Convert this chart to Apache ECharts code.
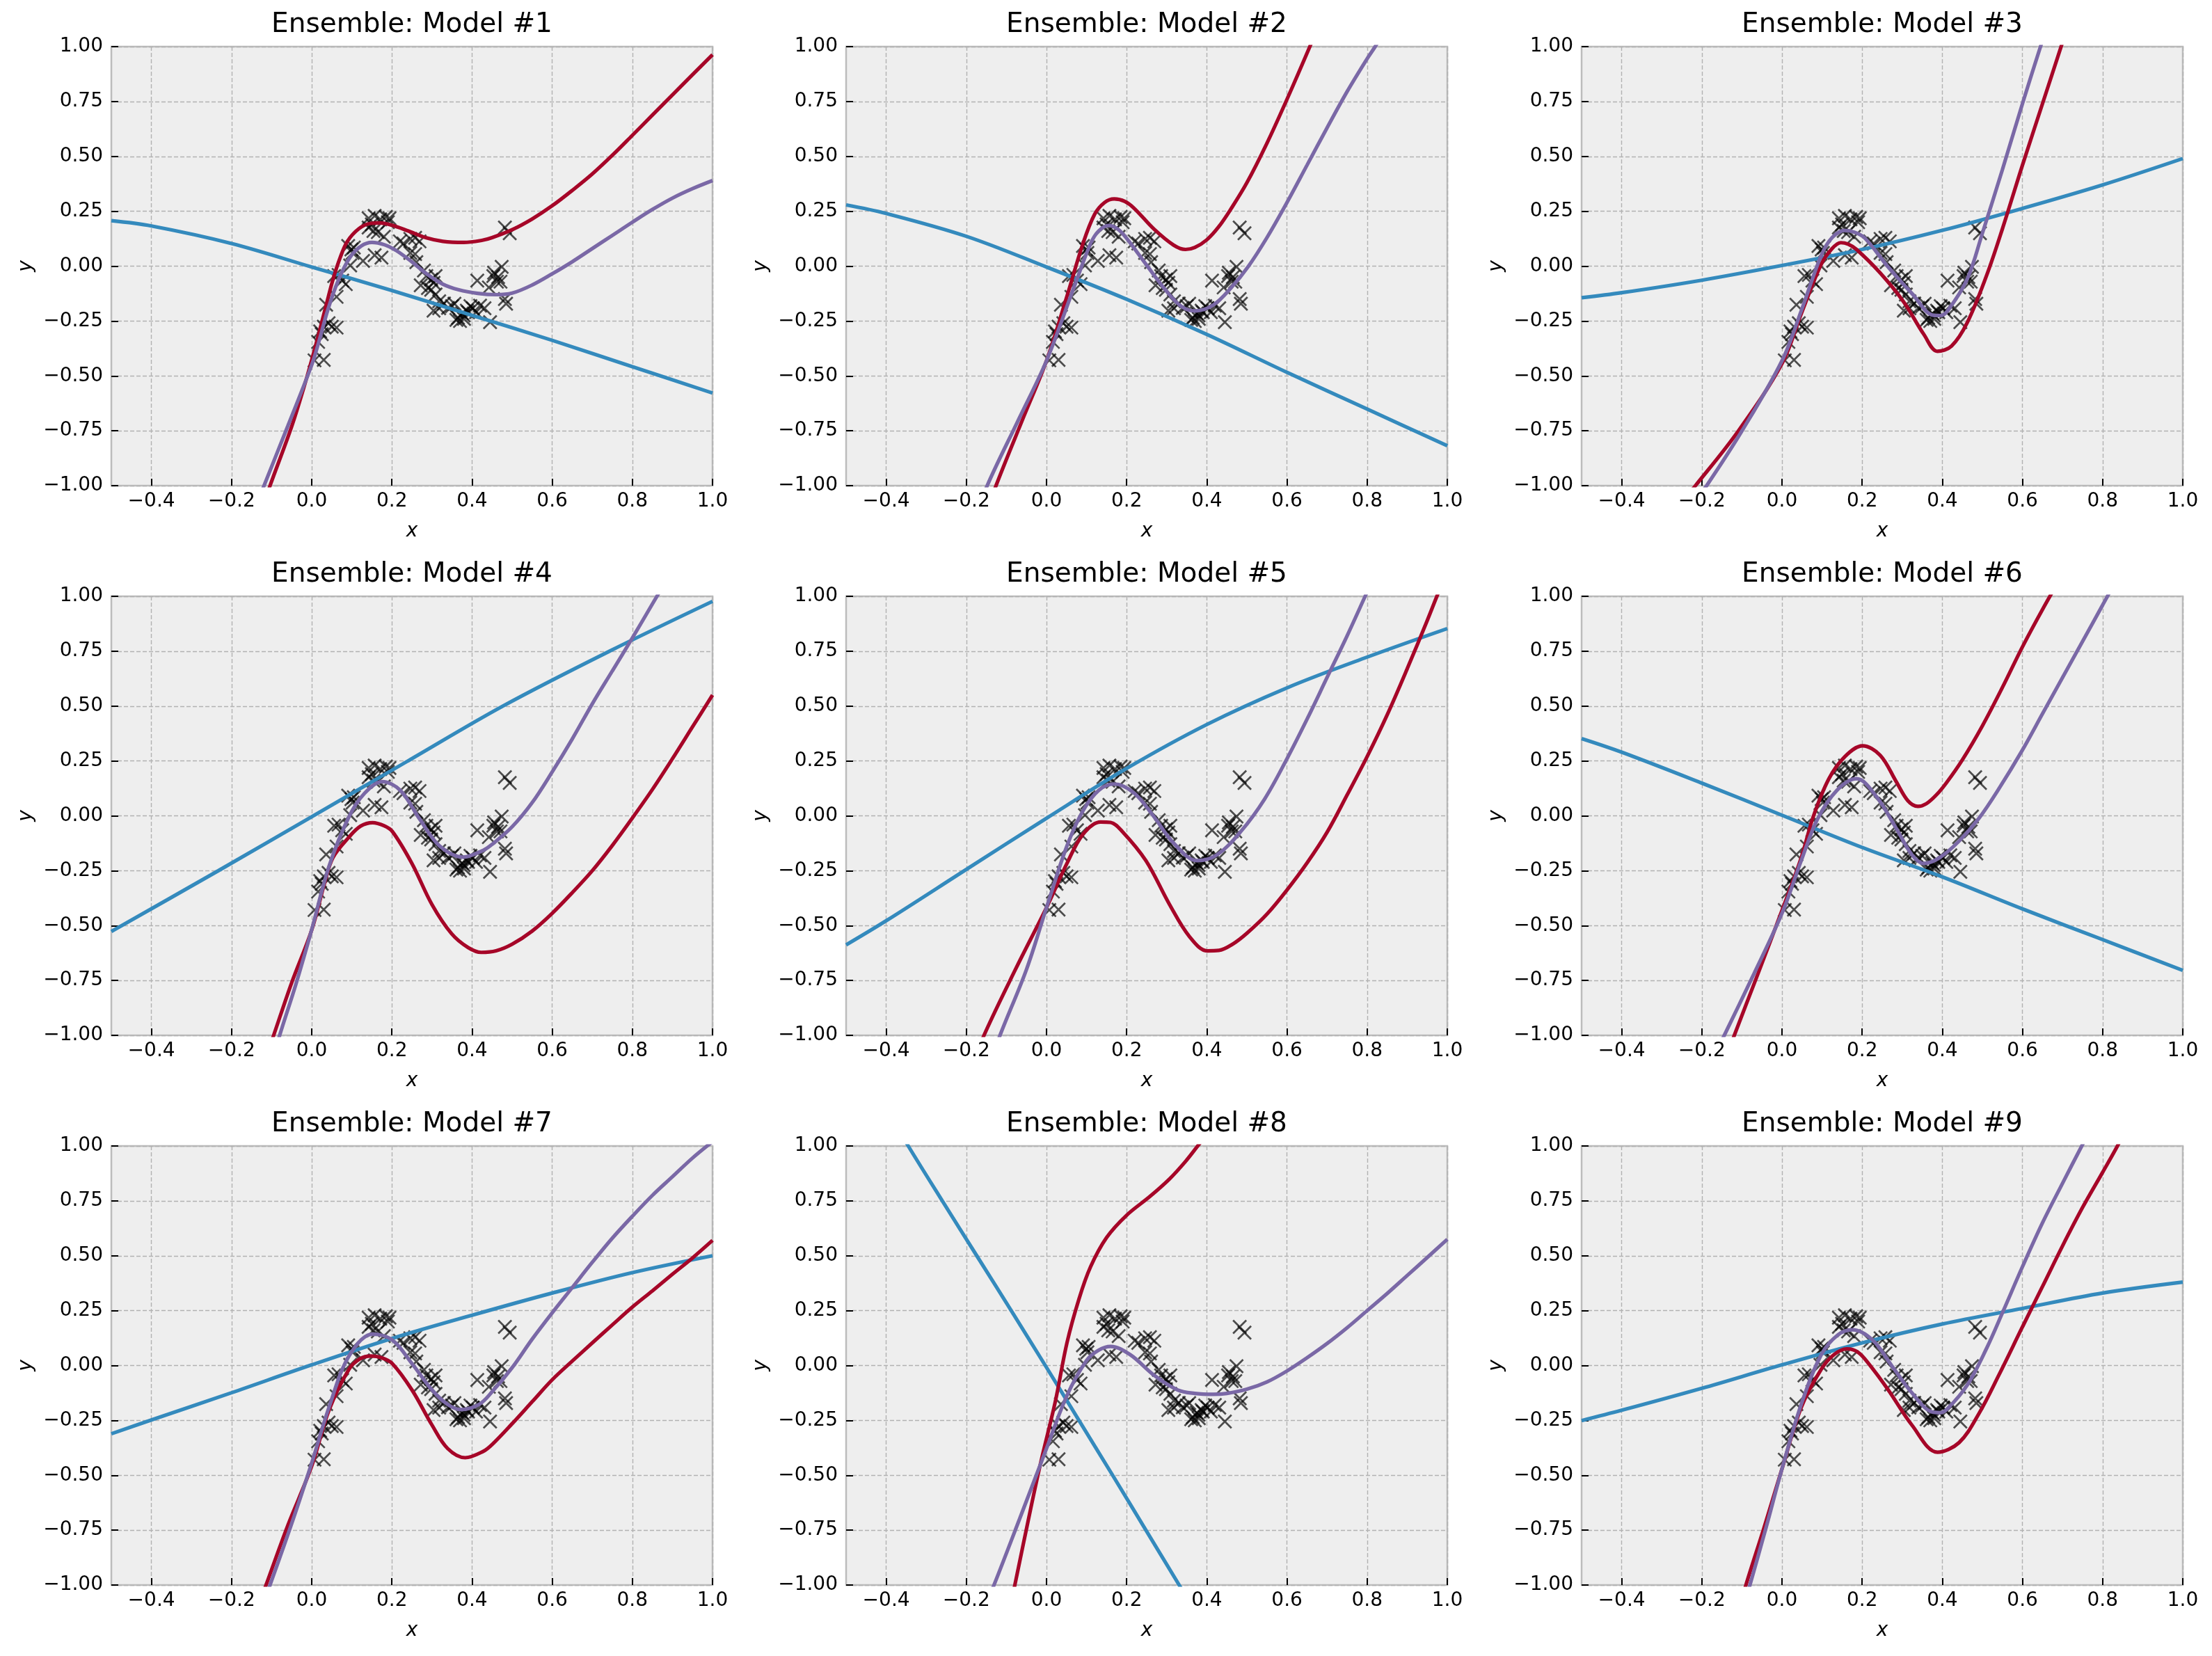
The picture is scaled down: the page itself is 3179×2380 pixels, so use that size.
<!DOCTYPE html>
<html>
<head>
<meta charset="utf-8">
<script src="https://cdn.jsdelivr.net/npm/echarts@6/dist/echarts.min.js"></script>
<style>
html,body{margin:0;padding:0;background:#ffffff;}
#chart{width:3179px;height:2380px;}
</style>
</head>
<body>
<div id="chart"></div>
<script>
// ---------- observed data points (same in every panel) ----------
const dataX = [0.007,0.030,0.016,0.021,0.025,0.030,0.042,0.050,0.062,0.036,
  0.062,0.056,0.067,0.076,0.085,0.091,0.099,0.102,0.105,0.096,
  0.128,0.142,0.157,0.171,0.185,0.194,0.142,0.150,0.154,0.165,
  0.180,0.190,0.157,0.174,0.220,0.229,0.246,0.258,0.269,0.246,
  0.258,0.261,0.272,0.280,0.286,0.290,0.298,0.304,0.309,0.298,
  0.309,0.318,0.304,0.318,0.330,0.340,0.350,0.356,0.361,0.365,
  0.370,0.375,0.379,0.380,0.387,0.390,0.396,0.402,0.410,0.413,
  0.420,0.431,0.442,0.445,0.453,0.455,0.462,0.465,0.471,0.474,
  0.482,0.482,0.485,0.494];
const dataY = [-0.429,-0.427,-0.345,-0.297,-0.310,-0.276,-0.260,-0.276,-0.280,-0.176,
  -0.140,-0.045,-0.040,-0.066,-0.082,0.092,0.076,0.060,0.085,0.003,
  0.024,0.218,0.229,0.213,0.224,0.218,0.176,0.190,0.160,0.155,
  0.134,0.200,0.050,0.039,0.113,0.103,0.124,0.129,0.113,0.060,
  0.055,0.018,-0.087,-0.020,-0.045,-0.100,-0.061,-0.076,-0.045,-0.108,
  -0.129,-0.160,-0.203,-0.192,-0.170,-0.190,-0.182,-0.171,-0.245,-0.235,
  -0.250,-0.215,-0.224,-0.240,-0.203,-0.210,-0.182,-0.192,-0.210,-0.066,
  -0.180,-0.192,-0.097,-0.255,-0.045,-0.030,-0.071,-0.050,-0.071,-0.003,
  0.176,-0.150,-0.171,0.150];

// ---------- tick values ----------
const xTicks = [-0.4,-0.2,0.0,0.2,0.4,0.6,0.8,1.0];
const yTicks = [-1.0,-0.75,-0.5,-0.25,0.0,0.25,0.5,0.75,1.0];

// ---------- titles ----------
const titles = ['Ensemble: Model #1','Ensemble: Model #2','Ensemble: Model #3',
  'Ensemble: Model #4','Ensemble: Model #5','Ensemble: Model #6',
  'Ensemble: Model #7','Ensemble: Model #8','Ensemble: Model #9'];

// ---------- model curves ([x, y] samples) ----------
const blue1 = [[-0.5,0.207],[-0.4,0.183],[-0.2,0.103],[0,-0.004],[0.2,-0.111],[0.4,-0.224],[0.6,-0.338],[0.8,-0.458],[1.0,-0.578]];
const red1 = [[-0.13,-1.14],[-0.104,-1.0],[-0.05,-0.73],[-0.016,-0.53],[0.01,-0.36],[0.037,-0.171],[0.054,-0.055],[0.071,0.039],[0.089,0.113],[0.118,0.171],[0.147,0.195],[0.17,0.197],[0.199,0.187],[0.24,0.161],[0.286,0.129],[0.327,0.113],[0.379,0.108],[0.426,0.118],[0.45,0.13],[0.5,0.166],[0.55,0.215],[0.6,0.275],[0.65,0.345],[0.7,0.42],[0.75,0.505],[0.8,0.596],[0.85,0.688],[0.9,0.78],[0.95,0.872],[1.0,0.963]];
const purple1 = [[-0.14,-1.1],[-0.119,-1.0],[-0.06,-0.73],[0,-0.45],[0.02,-0.33],[0.04,-0.2],[0.066,-0.066],[0.095,0.039],[0.124,0.092],[0.15,0.108],[0.182,0.097],[0.211,0.071],[0.251,0.018],[0.286,-0.034],[0.327,-0.082],[0.367,-0.108],[0.414,-0.124],[0.46,-0.13],[0.5,-0.123],[0.55,-0.086],[0.6,-0.035],[0.65,0.02],[0.7,0.08],[0.75,0.14],[0.8,0.2],[0.85,0.258],[0.9,0.31],[0.95,0.353],[1.0,0.39]];

const blue2 = [[-0.5,0.279],[-0.4,0.24],[-0.2,0.136],[0,-0.004],[0.2,-0.151],[0.4,-0.311],[0.6,-0.484],[0.8,-0.651],[1.0,-0.818]];
const red2 = [[-0.15,-1.13],[-0.126,-1.0],[-0.06,-0.7],[0,-0.431],[0.051,-0.137],[0.091,0.103],[0.12,0.236],[0.145,0.29],[0.169,0.306],[0.195,0.295],[0.219,0.263],[0.268,0.169],[0.317,0.096],[0.347,0.076],[0.37,0.085],[0.4,0.12],[0.43,0.18],[0.46,0.26],[0.5,0.38],[0.55,0.56],[0.6,0.76],[0.657,1.0],[0.67,1.06]];
const purple2 = [[-0.17,-1.12],[-0.148,-1.0],[-0.07,-0.7],[0,-0.431],[0.071,-0.084],[0.11,0.103],[0.13,0.16],[0.155,0.185],[0.177,0.17],[0.199,0.129],[0.248,0.009],[0.298,-0.111],[0.337,-0.184],[0.371,-0.204],[0.416,-0.177],[0.46,-0.1],[0.504,0.0],[0.55,0.13],[0.6,0.29],[0.65,0.46],[0.7,0.63],[0.75,0.795],[0.8,0.945],[0.82,1.0],[0.84,1.06]];

const blue3 = [[-0.5,-0.144],[-0.4,-0.121],[-0.2,-0.064],[0,0.003],[0.2,0.076],[0.4,0.163],[0.6,0.263],[0.8,0.37],[1.0,0.49]];
const red3 = [[-0.24,-1.05],[-0.216,-1.0],[-0.109,-0.751],[0,-0.444],[0.048,-0.217],[0.098,0.009],[0.125,0.08],[0.147,0.107],[0.165,0.1],[0.186,0.076],[0.245,-0.031],[0.304,-0.164],[0.354,-0.311],[0.388,-0.388],[0.423,-0.364],[0.462,-0.258],[0.511,-0.04],[0.55,0.17],[0.6,0.46],[0.65,0.74],[0.7,1.02]];
const purple3 = [[-0.21,-1.05],[-0.188,-1.0],[-0.1,-0.751],[0,-0.431],[0.048,-0.204],[0.098,0.049],[0.125,0.13],[0.157,0.163],[0.18,0.155],[0.206,0.129],[0.265,-0.004],[0.324,-0.124],[0.378,-0.224],[0.395,-0.225],[0.413,-0.204],[0.462,-0.06],[0.5,0.15],[0.55,0.44],[0.6,0.74],[0.645,1.0],[0.66,1.08]];

const blue4 = [[-0.5,-0.527],[-0.474,-0.5],[-0.233,-0.25],[0.004,0.0],[0.24,0.25],[0.477,0.5],[0.743,0.75],[1.0,0.977]];
const red4 = [[-0.11,-1.08],[-0.095,-1.0],[-0.05,-0.76],[0,-0.52],[0.033,-0.3],[0.053,-0.19],[0.093,-0.097],[0.122,-0.047],[0.152,-0.031],[0.18,-0.045],[0.201,-0.071],[0.25,-0.217],[0.3,-0.404],[0.349,-0.537],[0.39,-0.6],[0.423,-0.622],[0.46,-0.615],[0.5,-0.585],[0.55,-0.525],[0.6,-0.444],[0.65,-0.35],[0.7,-0.25],[0.75,-0.135],[0.8,-0.01],[0.85,0.12],[0.9,0.26],[0.95,0.405],[1.0,0.55]];
const purple4 = [[-0.09,-1.07],[-0.08,-1.0],[-0.04,-0.77],[0,-0.518],[0.043,-0.231],[0.093,-0.004],[0.132,0.103],[0.176,0.156],[0.221,0.116],[0.27,-0.017],[0.319,-0.137],[0.378,-0.188],[0.428,-0.157],[0.45,-0.13],[0.5,-0.05],[0.55,0.06],[0.6,0.2],[0.65,0.35],[0.7,0.51],[0.75,0.66],[0.8,0.81],[0.85,0.965],[0.9,1.12]];

const blue5 = [[-0.5,-0.588],[-0.4,-0.478],[-0.2,-0.244],[0,-0.011],[0.2,0.216],[0.4,0.416],[0.6,0.583],[0.8,0.723],[1.0,0.853]];
const red5 = [[-0.17,-1.08],[-0.156,-1.0],[-0.077,-0.698],[0,-0.418],[0.051,-0.217],[0.091,-0.084],[0.135,-0.028],[0.16,-0.03],[0.189,-0.071],[0.248,-0.204],[0.307,-0.404],[0.357,-0.551],[0.401,-0.615],[0.43,-0.613],[0.465,-0.584],[0.5,-0.535],[0.55,-0.448],[0.6,-0.338],[0.65,-0.215],[0.7,-0.075],[0.75,0.095],[0.8,0.27],[0.85,0.46],[0.9,0.67],[0.95,0.89],[0.974,1.0],[0.99,1.07]];
const purple5 = [[-0.13,-1.08],[-0.116,-1.0],[-0.05,-0.7],[0,-0.418],[0.051,-0.137],[0.091,0.023],[0.13,0.116],[0.169,0.145],[0.219,0.103],[0.268,-0.004],[0.317,-0.124],[0.376,-0.204],[0.426,-0.177],[0.485,-0.071],[0.544,0.076],[0.6,0.26],[0.65,0.44],[0.7,0.63],[0.75,0.82],[0.795,1.0],[0.81,1.06]];

const blue6 = [[-0.5,0.352],[-0.4,0.29],[-0.2,0.149],[0,0.003],[0.2,-0.144],[0.4,-0.278],[0.6,-0.424],[0.8,-0.564],[1.0,-0.704]];
const red6 = [[-0.13,-1.06],[-0.119,-1.0],[-0.06,-0.72],[0,-0.431],[0.048,-0.191],[0.078,-0.004],[0.117,0.169],[0.157,0.27],[0.201,0.319],[0.245,0.276],[0.285,0.156],[0.314,0.069],[0.339,0.043],[0.36,0.055],[0.385,0.095],[0.41,0.15],[0.45,0.255],[0.5,0.41],[0.55,0.585],[0.6,0.77],[0.65,0.94],[0.7,1.1]];
const purple6 = [[-0.16,-1.06],[-0.144,-1.0],[-0.07,-0.72],[0,-0.444],[0.048,-0.204],[0.088,-0.017],[0.137,0.116],[0.186,0.169],[0.235,0.089],[0.285,-0.057],[0.324,-0.177],[0.354,-0.217],[0.393,-0.191],[0.442,-0.115],[0.492,-0.01],[0.54,0.12],[0.6,0.3],[0.65,0.465],[0.7,0.63],[0.75,0.795],[0.8,0.96],[0.812,1.0],[0.83,1.06]];

const blue7 = [[-0.5,-0.311],[-0.4,-0.248],[-0.2,-0.124],[0,0.003],[0.2,0.123],[0.4,0.229],[0.6,0.33],[0.8,0.423],[1.0,0.5]];
const red7 = [[-0.13,-1.08],[-0.114,-1.0],[-0.06,-0.73],[0,-0.458],[0.043,-0.204],[0.093,-0.017],[0.12,0.03],[0.148,0.043],[0.175,0.035],[0.201,0.009],[0.25,-0.111],[0.3,-0.271],[0.339,-0.378],[0.383,-0.42],[0.428,-0.391],[0.45,-0.36],[0.5,-0.265],[0.55,-0.165],[0.6,-0.065],[0.65,0.02],[0.7,0.103],[0.75,0.185],[0.8,0.266],[0.85,0.34],[0.9,0.416],[0.95,0.49],[1.0,0.57]];
const purple7 = [[-0.12,-1.08],[-0.104,-1.0],[-0.05,-0.72],[0,-0.444],[0.043,-0.191],[0.093,0.043],[0.152,0.143],[0.201,0.116],[0.25,0.009],[0.3,-0.111],[0.339,-0.177],[0.373,-0.201],[0.418,-0.177],[0.45,-0.12],[0.5,-0.01],[0.55,0.12],[0.6,0.24],[0.65,0.355],[0.7,0.47],[0.75,0.58],[0.8,0.68],[0.85,0.775],[0.9,0.86],[0.95,0.945],[1.0,1.02]];

const blue8 = [[-0.36,1.05],[-0.345,1.0],[-0.26,0.75],[-0.174,0.5],[-0.088,0.25],[-0.003,0.0],[0.081,-0.25],[0.165,-0.5],[0.248,-0.75],[0.331,-1.0],[0.35,-1.06]];
const red8 = [[-0.09,-1.1],[-0.079,-1.0],[-0.037,-0.631],[-0.013,-0.431],[0.022,-0.164],[0.051,0.103],[0.081,0.303],[0.11,0.45],[0.15,0.583],[0.199,0.683],[0.258,0.77],[0.307,0.85],[0.347,0.93],[0.376,0.997],[0.39,1.03]];
const purple8 = [[-0.15,-1.08],[-0.131,-1.0],[-0.067,-0.698],[0,-0.378],[0.051,-0.137],[0.1,0.023],[0.13,0.07],[0.16,0.087],[0.209,0.049],[0.268,-0.044],[0.327,-0.111],[0.37,-0.127],[0.416,-0.131],[0.45,-0.127],[0.5,-0.108],[0.55,-0.075],[0.6,-0.025],[0.65,0.035],[0.7,0.1],[0.75,0.172],[0.8,0.25],[0.85,0.328],[0.9,0.41],[0.95,0.492],[1.0,0.575]];

const blue9 = [[-0.5,-0.251],[-0.4,-0.204],[-0.2,-0.104],[0,0.003],[0.2,0.103],[0.4,0.189],[0.6,0.26],[0.8,0.33],[1.0,0.38]];
const red9 = [[-0.1,-1.07],[-0.09,-1.0],[-0.045,-0.74],[0,-0.471],[0.048,-0.191],[0.098,-0.017],[0.13,0.05],[0.162,0.076],[0.19,0.06],[0.216,0.009],[0.265,-0.111],[0.324,-0.271],[0.388,-0.395],[0.442,-0.351],[0.492,-0.217],[0.541,-0.044],[0.6,0.176],[0.65,0.36],[0.7,0.545],[0.75,0.72],[0.8,0.88],[0.837,1.0],[0.85,1.05]];
const purple9 = [[-0.09,-1.06],[-0.08,-1.0],[-0.04,-0.74],[0,-0.471],[0.048,-0.177],[0.098,0.049],[0.14,0.14],[0.176,0.163],[0.226,0.116],[0.275,-0.004],[0.324,-0.124],[0.373,-0.211],[0.395,-0.215],[0.413,-0.197],[0.462,-0.09],[0.511,0.08],[0.55,0.24],[0.6,0.45],[0.65,0.65],[0.7,0.83],[0.748,1.0],[0.76,1.04]];

const blueCurves = [blue1,blue2,blue3,blue4,blue5,blue6,blue7,blue8,blue9];
const redCurves = [red1,red2,red3,red4,red5,red6,red7,red8,red9];
const purpleCurves = [purple1,purple2,purple3,purple4,purple5,purple6,purple7,purple8,purple9];

// ---------- layout & style ----------
const colLeft = [160, 1216, 2273];
const rowTop = [67, 857, 1647];
const GW = 864, GH = 631;
const FONT = 'DejaVu Sans';
const COLORS = {blue:'#348ABD', red:'#A60628', purple:'#7A68A6'};
const minus = s => s.replace('-', '\u2212');

const scatterData = dataX.map((x, k) => [x, dataY[k]]);

const grids = [], xAxes = [], yAxes = [], series = [], titleOpts = [];
for (let i = 0; i < 9; i++) {
  const r = Math.floor(i / 3), c = i % 3;
  const left = colLeft[c], top = rowTop[r];
  grids.push({left: left, top: top, width: GW, height: GH, show: true,
    backgroundColor: '#eeeeee', borderColor: '#bcbcbc', borderWidth: 2.5, containLabel: false});
  titleOpts.push({text: titles[i], left: left + GW / 2, top: top - 51, textAlign: 'center', padding: 0,
    textStyle: {fontFamily: FONT, fontSize: 39, fontWeight: 'normal', color: '#000'}});
  xAxes.push({type: 'value', gridIndex: i, min: -0.5, max: 1.0,
    axisLine: {show: false, onZero: false},
    axisTick: {show: true, inside: true, length: 10, customValues: xTicks, lineStyle: {color: '#000', width: 2}},
    axisLabel: {customValues: xTicks, margin: 9, fontFamily: FONT, fontSize: 28, color: '#000',
      formatter: v => minus(v.toFixed(1))},
    splitLine: {show: true, lineStyle: {color: '#b2b2b2', width: 1.4, type: [6, 3]}},
    name: 'x', nameLocation: 'middle', nameGap: 52,
    nameTextStyle: {fontFamily: FONT, fontStyle: 'italic', fontSize: 28, color: '#000'}});
  yAxes.push({type: 'value', gridIndex: i, min: -1, max: 1, interval: 0.25,
    axisLine: {show: false, onZero: false},
    axisTick: {show: true, inside: true, length: 10, lineStyle: {color: '#000', width: 2}},
    axisLabel: {margin: 12, fontFamily: FONT, fontSize: 28, color: '#000', showMinLabel: true, showMaxLabel: true,
      formatter: v => minus(v.toFixed(2))},
    splitLine: {show: true, lineStyle: {color: '#b2b2b2', width: 1.4, type: [6, 3]}},
    name: 'y', nameLocation: 'middle', nameGap: 108, nameRotate: 90,
    nameTextStyle: {fontFamily: FONT, fontStyle: 'italic', fontSize: 28, color: '#000'}});
  series.push({type: 'scatter', xAxisIndex: i, yAxisIndex: i, data: scatterData,
    symbol: 'path://M0,0L1,1M1,0L0,1', symbolSize: 19, silent: true, z: 2,
    itemStyle: {color: 'rgba(0,0,0,0)', borderColor: 'rgba(0,0,0,0.85)', borderWidth: 2.7}});
  const lines = [[blueCurves[i], COLORS.blue], [redCurves[i], COLORS.red], [purpleCurves[i], COLORS.purple]];
  lines.forEach(([d, col], j) => {
    series.push({type: 'line', xAxisIndex: i, yAxisIndex: i, data: d, showSymbol: false,
      smooth: 0.35, clip: true, silent: true, z: 3 + j,
      lineStyle: {color: col, width: 5.2, cap: 'butt'}});
  });
}

const chart = echarts.init(document.getElementById('chart'), null, {renderer: 'canvas', width: 3179, height: 2380});
chart.setOption({
  backgroundColor: '#ffffff',
  animation: false,
  title: titleOpts,
  grid: grids,
  xAxis: xAxes,
  yAxis: yAxes,
  series: series
});
</script>
</body>
</html>
